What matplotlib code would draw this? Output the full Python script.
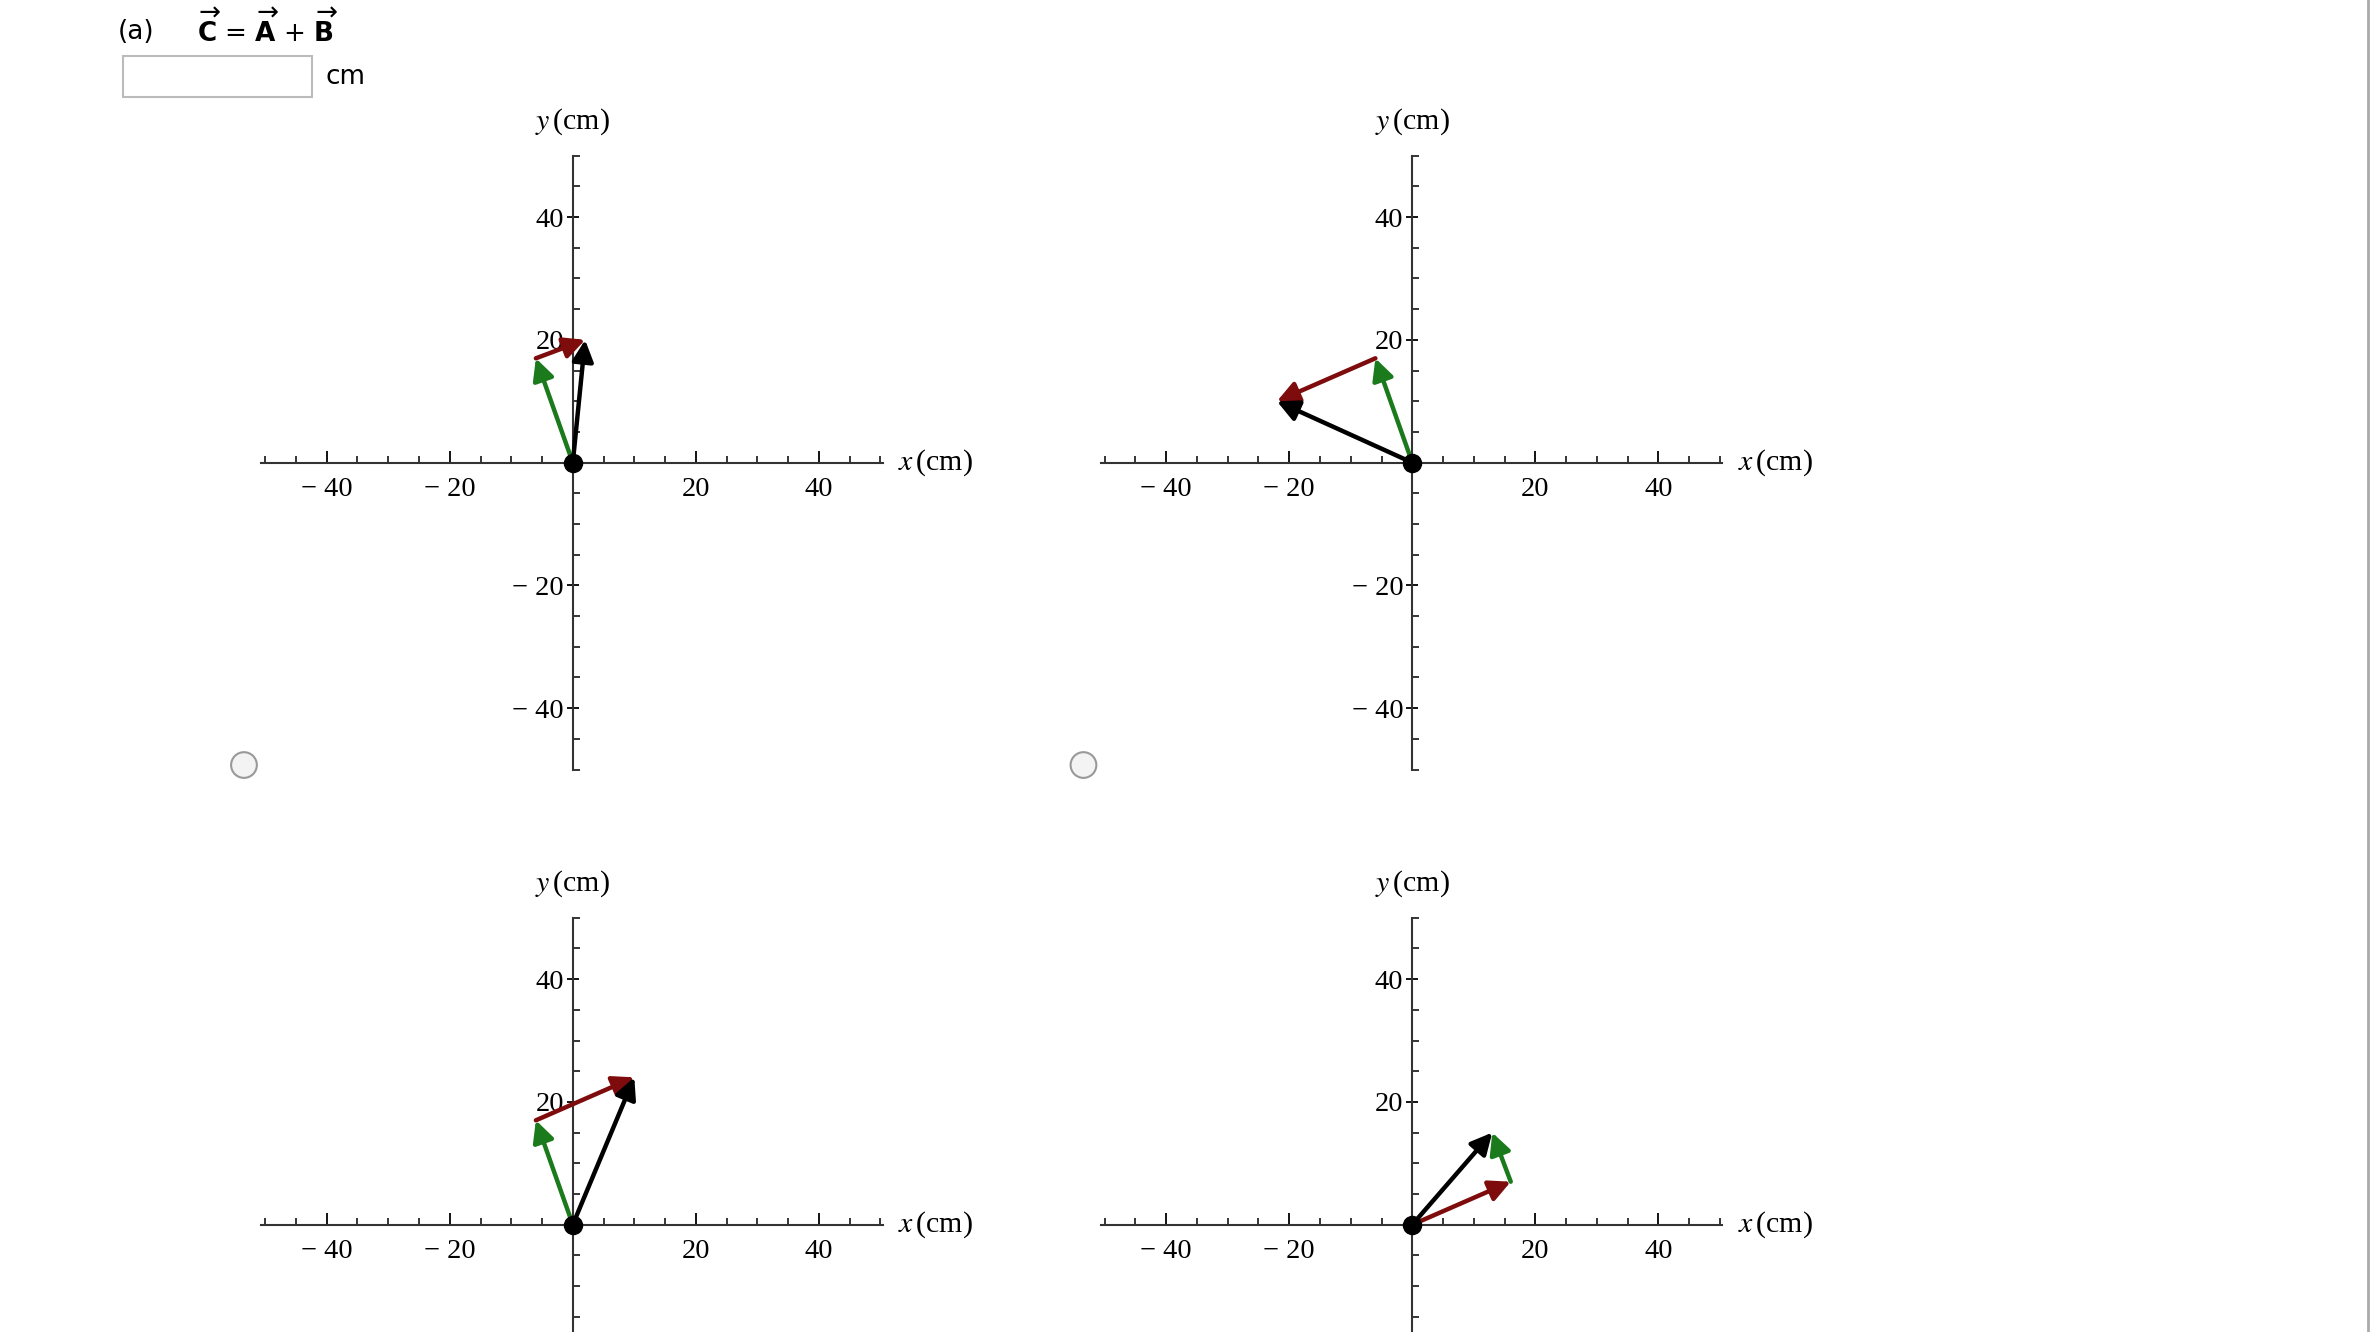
import matplotlib
matplotlib.use("Agg")
import matplotlib.pyplot as plt
from matplotlib.patches import Rectangle, Ellipse

plt.rcParams["mathtext.fontset"] = "stix"

W, H = 1564, 881
DPI = 100
panel_A = [(-6, 17), (-6, 17), (-6, 17), (-3, 8)]
panel_B = [(8, 3), (-16, -7), (16, 7), (16, 7)]
panel_C = [(2, 20), (-22, 10), (10, 24), (13, 15)]
ticks = [-40, -20, 20, 40]
tick_labels = ["\u2212 40", "\u2212 20", "20", "40"]
origins = [(378, 306), (932, 306), (378, 810), (932, 810)]
radios = [(161, 506), (715, 506)]

fig = plt.figure(figsize=(2370 / DPI, 1332 / DPI), dpi=DPI)
S = 2370 / W
sx = 4.06
serif = ["Liberation Serif", "DejaVu Serif"]
fs = 13.5 * S

for i, (ox, oy) in enumerate(origins):
    x0, x1 = -50.6, 50.4
    y0, y1 = -50, 50
    left = ox + x0 * sx
    right = ox + x1 * sx
    top = oy - y1 * sx
    bottom = oy - y0 * sx
    ax = fig.add_axes([left / W, 1 - bottom / H, (right - left) / W, (bottom - top) / H])
    ax.set_xlim(x0, x1)
    ax.set_ylim(y0, y1)
    ax.patch.set_alpha(0)
    for s in ["top", "right"]:
        ax.spines[s].set_visible(False)
    ax.spines["left"].set_position(("data", 0))
    ax.spines["bottom"].set_position(("data", 0))
    for s in ["left", "bottom"]:
        ax.spines[s].set_color("#333333")
        ax.spines[s].set_linewidth(1.5)
    ax.set_xticks(ticks)
    ax.set_xticklabels(tick_labels, family=serif, fontsize=fs)
    if i < 2:
        ax.set_yticks(ticks)
        ax.set_yticklabels(tick_labels, family=serif, fontsize=fs)
    else:
        ax.set_yticks(ticks[2:])
        ax.set_yticklabels(tick_labels[2:], family=serif, fontsize=fs)
    ax.set_xticks(range(-50, 51, 5), minor=True)
    ax.set_yticks(range(-50, 51, 5), minor=True)
    ax.tick_params(which="major", direction="in", length=9, width=1.3)
    ax.tick_params(which="minor", direction="in", length=5, width=1.1)
    ax.tick_params(axis="x", which="major", pad=10)
    ax.tick_params(axis="y", which="major", direction="inout", pad=2)
    ax.text(x1 + 2.5, 0, r"$x\,$(cm)", family=serif, fontsize=fs * 1.05, va="center", ha="left")
    ax.text(0, y1 + 3, r"$y\,$(cm)", family=serif, fontsize=fs * 1.05, va="bottom", ha="center")
    A, B, C = panel_A[i], panel_B[i], panel_C[i]
    kw = dict(arrowstyle="-|>", lw=3.2, mutation_scale=32, shrinkA=0, shrinkB=0)
    if i < 3:
        segs = [((0, 0), A, "#1b7a1b"), (A, (A[0] + B[0], A[1] + B[1]), "#7f0c0c")]
    else:
        segs = [((0, 0), B, "#7f0c0c"), (B, (A[0] + B[0], A[1] + B[1]), "#1b7a1b")]
    segs.append(((0, 0), C, "black"))
    for st, en, col in segs:
        ax.annotate("", xy=en, xytext=st, arrowprops=dict(color=col, **kw), annotation_clip=False)
    ax.plot(0, 0, "o", color="black", ms=13, zorder=5)

fig.text(78 / W, 1 - 21 / H, "(a)", fontsize=12.5 * S, va="center")
fig.text(130 / W, 1 - 19 / H,
         r"$\overrightarrow{\mathbf{C}}$ = $\overrightarrow{\mathbf{A}}$ + $\overrightarrow{\mathbf{B}}$",
         fontsize=12.5 * S, va="center", family="DejaVu Sans", math_fontfamily="dejavusans")
fig.patches.append(Rectangle((81 / W, 1 - 64 / H), 125 / W, 27 / H, transform=fig.transFigure,
                             fill=False, ec="#bbbbbb", lw=1.5))
fig.text(215 / W, 1 - 51 / H, "cm", fontsize=12.5 * S, va="center")
for (cx, cy) in radios:
    fig.patches.append(Ellipse((cx / W, 1 - cy / H), 17 / W, 17 / H, transform=fig.transFigure,
                               fill=True, fc="#f3f3f3", ec="#999999", lw=1.5))
fig.add_artist(plt.Line2D([1563 / W, 1563 / W], [0, 1], color="#aaaaaa", lw=2))

fig.savefig("out.png", dpi=DPI)
